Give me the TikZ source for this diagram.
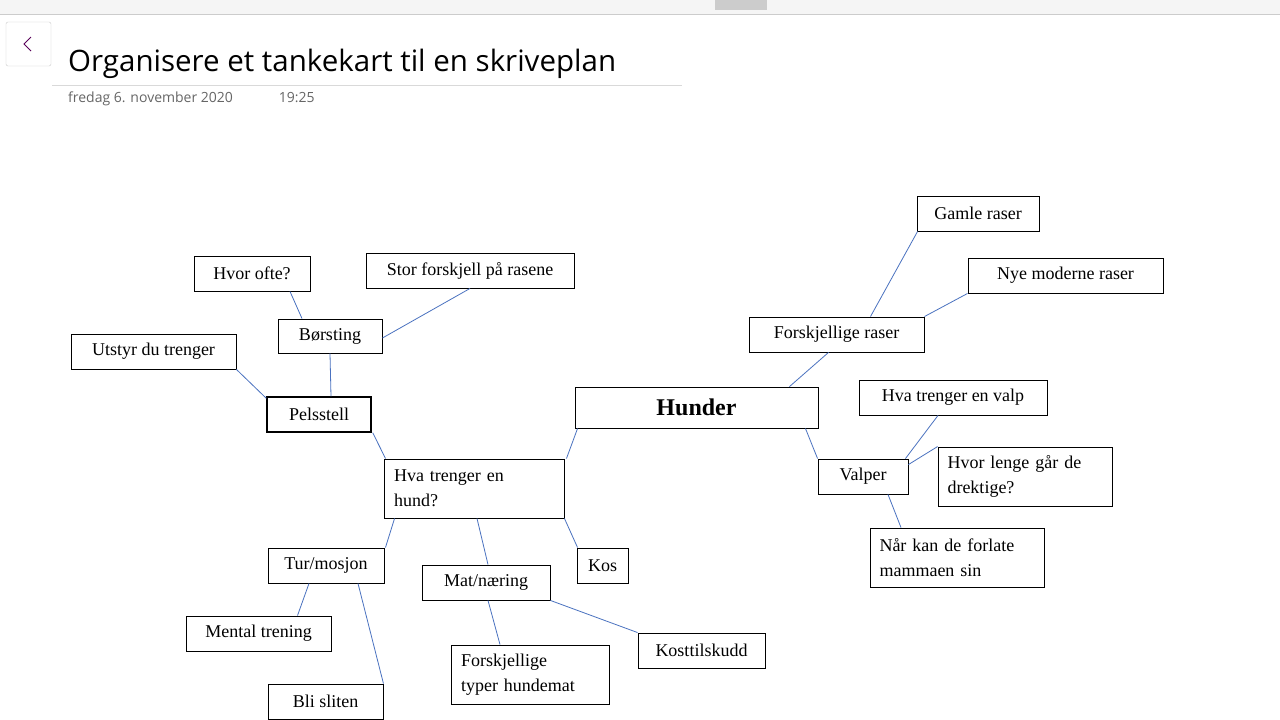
\documentclass[tikz,border=0pt]{standalone}
\usepackage{fontspec}
\setmainfont{Liberation Serif}
\newfontfamily\uifont{Open Sans}
\definecolor{lnk}{HTML}{4A72C0}
\begin{document}
\begin{tikzpicture}[x=1pt,y=-1pt,
  box/.style={draw=black,line width=0.9pt,inner sep=0pt,align=left,font=\fontsize{18}{25}\selectfont},
  con/.style={draw=lnk,line width=0.8pt}]
\useasboundingbox (0,0) rectangle (1280,720);
\fill[white] (0,0) rectangle (1280,720);
\fill[gray!8] (0,0) rectangle (1280,14);
\draw[gray!40] (0,14.5) -- (1280,14.5);
\fill[gray!40] (715,0) rectangle (767,10);
\node[draw=gray!40,rounded corners=2pt,minimum width=45,minimum height=44] (back) at (28.5,44) {};
\draw[violet!70!black,line width=1pt] (31,37) -- (24,44) -- (31,51);
\node[anchor=base west,inner sep=0pt,font=\uifont\fontsize{29.5}{31}\selectfont] (title) at (68,71) {Organisere et tankekart til en skriveplan};
\draw[gray!30] (52,85) -- (682,85);
\node[anchor=base west,inner sep=0pt,text=gray!80!black,font=\uifont\fontsize{14}{16}\selectfont] (date) at (68,102) {fredag 6. november 2020\hspace{46pt}19:25};
\newcommand\bx[7]{\node[box,minimum width=#4-#2,minimum height=#5-#3,#6] (#1) at ({(#2+#4)/2},{(#3+#5)/2}) {#7};}
\bx{ga}{917}{196}{1039}{231}{}{Gamle raser}
\bx{ny}{968}{258}{1163}{293}{}{Nye moderne raser}
\bx{fr}{749}{317}{924}{352}{}{Forskjellige raser}
\bx{hu}{575}{387}{818}{428}{font=\fontsize{24}{26}\selectfont\bfseries}{Hunder}
\bx{hv}{859}{380}{1047}{415}{}{Hva trenger en valp}
\bx{vl}{818}{459}{908}{494}{}{Valper}
\bx{hl}{938}{447}{1112}{506}{text width=155pt}{Hvor lenge går de\\drektige?}
\bx{nk}{870}{528}{1044}{587}{text width=155pt}{Når kan de forlate\\mammaen sin}
\bx{ho}{194}{256}{310}{291}{}{Hvor ofte?}
\bx{st}{366}{253}{574}{288}{}{Stor forskjell på rasene}
\bx{bo}{278}{319}{382}{353}{}{Børsting}
\bx{ut}{71}{334}{236}{369}{}{Utstyr du trenger}
\bx{pe}{267}{397}{371}{432}{line width=1.4pt}{Pelsstell}
\bx{hh}{384}{459}{564}{518}{text width=160pt}{Hva trenger en\\hund?}
\bx{ko}{577}{548}{628}{583}{}{Kos}
\bx{tu}{268}{548}{384}{583}{}{Tur/mosjon}
\bx{ma}{422}{565}{550}{600}{}{Mat/næring}
\bx{me}{186}{616}{331}{651}{}{Mental trening}
\bx{bl}{268}{684}{383}{719}{}{Bli sliten}
\bx{ft}{451}{645}{609}{704}{text width=138pt}{Forskjellige\\typer hundemat}
\bx{kt}{638}{633}{765}{668}{}{Kosttilskudd}
\draw[con] ([xshift=34]fr.north) -- ([xshift=1]ga.south west);
\draw[con] (fr.north east) -- (ny.south west);
\draw[con] ([xshift=93]hu.north) -- ([xshift=-8]fr.south);
\draw[con] ([xshift=-13]hu.south east) -- (vl.north west);
\draw[con] ([xshift=-3]vl.north east) -- ([xshift=-15]hv.south);
\draw[con] ([xshift=0]vl.north east)++(0,6) -- ([xshift=0]hl.north west)++(0,8);
\draw[con] ([xshift=25]vl.south) -- ([xshift=-56]nk.north);
\draw[con] ([xshift=3]hu.south west) -- ([xshift=2]hh.north east);
\draw[con] ([xshift=2]hh.north west) -- ([xshift=1]pe.south east);
\draw[con] ([xshift=12]pe.north) -- ([xshift=0]bo.south);
\draw[con] ([yshift=0]pe.north west)++(0,2) -- (ut.south east);
\draw[con] ([xshift=-28]bo.north) -- ([xshift=38]ho.south);
\draw[con] (bo.east)++(0,2) -- (st.south);
\draw[con] ([xshift=11]hh.south west) -- ([xshift=1]tu.north east);
\draw[con] ([xshift=3]hh.south) -- ([xshift=2]ma.north);
\draw[con] (hh.south east) -- ([xshift=1]ko.north west);
\draw[con] ([xshift=-17]tu.north |- tu.south) -- ([xshift=39]me.north);
\draw[con] ([xshift=32]tu.south) -- (bl.north east);
\draw[con] ([xshift=2]ma.south) -- ([xshift=-30]ft.north);
\draw[con] (ma.south east) -- ([xshift=0]kt.north west);
\end{tikzpicture}
\end{document}
